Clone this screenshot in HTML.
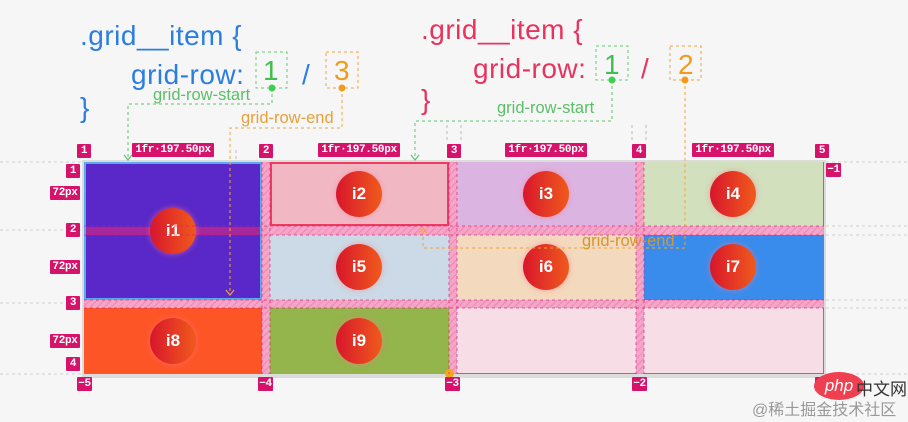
<!DOCTYPE html>
<html><head><meta charset="utf-8"><style>
body{margin:0;width:908px;height:422px;background:#f6f6f7;position:relative;overflow:hidden;font-family:"Liberation Sans","Noto Sans CJK SC",sans-serif}
.a{position:absolute}
.code{font-size:28px;line-height:1;letter-spacing:0.5px}
.lbl{font-size:16.5px}
.tag{position:absolute;background:#d6126b;color:#fff;font-family:"Liberation Mono",monospace;font-weight:bold;font-size:11px;line-height:14px;height:14px;text-align:center;border-radius:1px;letter-spacing:-0.3px}
.cell{position:absolute}
.c{position:absolute;width:46px;height:46px;border-radius:50%;background:linear-gradient(90deg,#d8162c,#f05a1c);color:#fff;font-size:17px;font-weight:bold;text-align:center;line-height:46px;box-shadow:0 0 6px rgba(255,120,140,.6)}
.gap{position:absolute;background:repeating-linear-gradient(135deg,#f4a0c4 0 4px,#ec7fb0 4px 5px);opacity:.9}
</style></head><body>
<!-- code left -->
<div class="a code" style="left:80px;top:22px;color:#2a7de1">.grid__item {</div>
<div class="a code" style="left:131px;top:61px;color:#2a7de1">grid-row:</div>
<div class="a code" style="left:263px;top:57px;color:#3fbf4f">1</div>
<div class="a code" style="left:302px;top:61px;color:#2a7de1">/</div>
<div class="a code" style="left:334px;top:57px;color:#f29a1a">3</div>
<div class="a code" style="left:80px;top:94px;color:#2a7de1">}</div>
<div class="a lbl" style="left:153px;top:86px;color:#5cbf68">grid-row-start</div>
<div class="a lbl" style="left:241px;top:109px;color:#e8a038">grid-row-end</div>
<!-- code right -->
<div class="a code" style="left:421px;top:16px;color:#e8335d">.grid__item {</div>
<div class="a code" style="left:473px;top:55px;color:#e8335d">grid-row:</div>
<div class="a code" style="left:604px;top:51px;color:#3fbf4f">1</div>
<div class="a code" style="left:641px;top:55px;color:#e8335d">/</div>
<div class="a code" style="left:678px;top:51px;color:#f29a1a">2</div>
<div class="a code" style="left:421px;top:86px;color:#e8335d">}</div>
<div class="a lbl" style="left:497px;top:99px;color:#5cbf68">grid-row-start</div>

<!-- grid -->
<div class="a" style="left:82px;top:160px;width:744px;height:218px;background:#dcdcdc"></div>
<div class="a" style="left:84px;top:162px;width:740px;height:212px;background:#f7dde6;border:1px solid #e0507f;box-sizing:border-box"></div>
<div class="gap" style="left:84px;top:226px;width:740px;height:9px"></div>
<div class="gap" style="left:84px;top:300px;width:740px;height:8px"></div>
<div class="gap" style="left:262px;top:162px;width:8px;height:212px"></div>
<div class="gap" style="left:449px;top:162px;width:8px;height:212px"></div>
<div class="gap" style="left:636px;top:162px;width:8px;height:212px"></div>
<div class="cell" style="left:84px;top:162px;width:178px;height:138px;background:#5a28c8;border:2px solid #5aaaf0;box-sizing:border-box"></div>
<div class="a" style="left:86px;top:227px;width:174px;height:8px;background:rgba(230,40,120,.55)"></div>
<div class="cell" style="left:270px;top:162px;width:179px;height:64px;background:#f1b8c4;border:2px solid #ef3b60;box-sizing:border-box"></div>
<div class="cell" style="left:457px;top:162px;width:179px;height:64px;background:#dcb4e2"></div>
<div class="cell" style="left:644px;top:162px;width:179px;height:64px;background:#d2e0bd"></div>
<div class="cell" style="left:270px;top:235px;width:179px;height:65px;background:#cbdae6"></div>
<div class="cell" style="left:457px;top:235px;width:179px;height:65px;background:#f3d9bd"></div>
<div class="cell" style="left:644px;top:235px;width:179px;height:65px;background:#3a8cec"></div>
<div class="cell" style="left:84px;top:308px;width:178px;height:66px;background:#fe5527"></div>
<div class="cell" style="left:270px;top:308px;width:179px;height:66px;background:#94b44c"></div>
<div class="a" style="left:445px;top:369px;width:9px;height:9px;border-radius:50%;background:#f7a51c"></div>

<div class="c" style="left:150px;top:208px">i1</div>
<div class="c" style="left:336px;top:171px">i2</div>
<div class="c" style="left:523px;top:171px">i3</div>
<div class="c" style="left:710px;top:171px">i4</div>
<div class="c" style="left:336px;top:244px">i5</div>
<div class="c" style="left:523px;top:244px">i6</div>
<div class="c" style="left:710px;top:244px">i7</div>
<div class="c" style="left:150px;top:318px">i8</div>
<div class="c" style="left:336px;top:318px">i9</div>

<svg class="a" style="left:0;top:0" width="908" height="422">
<g fill="none" stroke-dasharray="3,3" stroke-width="1">
<g stroke="#aaa" stroke-opacity=".5">
<line x1="0" y1="162" x2="84" y2="162"/><line x1="0" y1="230" x2="84" y2="230"/><line x1="0" y1="303" x2="84" y2="303"/><line x1="0" y1="374" x2="84" y2="374"/>
<line x1="826" y1="162" x2="908" y2="162"/><line x1="826" y1="226" x2="908" y2="226"/><line x1="826" y1="235" x2="908" y2="235"/><line x1="826" y1="300" x2="908" y2="300"/><line x1="826" y1="308" x2="908" y2="308"/><line x1="826" y1="374" x2="908" y2="374"/>
</g>
<g stroke="#d6126b" stroke-opacity=".6">
<line x1="84" y1="226" x2="824" y2="226"/><line x1="84" y1="235" x2="824" y2="235"/><line x1="84" y1="300" x2="824" y2="300"/><line x1="84" y1="308" x2="824" y2="308"/>
<line x1="262" y1="162" x2="262" y2="374"/><line x1="270" y1="162" x2="270" y2="374"/><line x1="449" y1="162" x2="449" y2="374"/><line x1="457" y1="162" x2="457" y2="374"/><line x1="636" y1="162" x2="636" y2="374"/><line x1="644" y1="162" x2="644" y2="374"/>
</g>
<rect x="256" y="52" width="31" height="36" stroke="#5cd070"/>
<rect x="326" y="52" width="32" height="36" stroke="#f2a33a"/>
<rect x="596" y="46" width="32" height="34" stroke="#5cd070"/>
<rect x="670" y="46" width="31" height="34" stroke="#f2a33a"/>
<path d="M272 88V104H128V160" stroke="#5cc56a"/>
<path d="M342 88V128H230V295" stroke="#f2a33a"/>
<path d="M612 80V121H415V160" stroke="#5cc56a"/>
<path d="M685 80V248H423V228" stroke="#f2a33a"/>
<path d="M236 150V160M272 150V160M447 125V140M461 125V140M632 125V140M646 125V140" stroke="#bbb"/>
</g>
<g fill="none" stroke-width="1.2">
<path d="M124 155L128 160L132 155" stroke="#5cc56a"/>
<path d="M411 155L415 160L419 155" stroke="#5cc56a"/>
<path d="M226 290L230 295L234 290" stroke="#f2a33a"/>
<path d="M419 233L423 228L427 233" stroke="#f2a33a"/>
</g>
<circle cx="272" cy="88" r="3.5" fill="#3fcf4f"/>
<circle cx="342" cy="88" r="3.5" fill="#f29a1a"/>
<circle cx="612" cy="80" r="3.5" fill="#3fcf4f"/>
<circle cx="685" cy="80" r="3.5" fill="#f29a1a"/>
</svg>
<div class="a lbl" style="left:582px;top:232px;color:#d9962e">grid-row-end</div>

<!-- tags -->
<div class="tag" style="left:77px;top:144px;width:14px">1</div>
<div class="tag" style="left:259px;top:144px;width:14px">2</div>
<div class="tag" style="left:447px;top:144px;width:14px">3</div>
<div class="tag" style="left:632px;top:144px;width:14px">4</div>
<div class="tag" style="left:815px;top:144px;width:14px">5</div>
<div class="tag" style="left:132px;top:143px;width:82px">1fr·197.50px</div>
<div class="tag" style="left:318px;top:143px;width:82px">1fr·197.50px</div>
<div class="tag" style="left:505px;top:143px;width:82px">1fr·197.50px</div>
<div class="tag" style="left:692px;top:143px;width:82px">1fr·197.50px</div>
<div class="tag" style="left:66px;top:164px;width:14px">1</div>
<div class="tag" style="left:50px;top:186px;width:30px">72px</div>
<div class="tag" style="left:66px;top:223px;width:14px">2</div>
<div class="tag" style="left:50px;top:260px;width:30px">72px</div>
<div class="tag" style="left:66px;top:296px;width:14px">3</div>
<div class="tag" style="left:50px;top:334px;width:30px">72px</div>
<div class="tag" style="left:66px;top:357px;width:14px">4</div>
<div class="tag" style="left:77px;top:377px;width:15px">−5</div>
<div class="tag" style="left:258px;top:377px;width:15px">−4</div>
<div class="tag" style="left:445px;top:377px;width:15px">−3</div>
<div class="tag" style="left:632px;top:377px;width:15px">−2</div>
<div class="tag" style="left:815px;top:377px;width:15px">−1</div>
<div class="tag" style="left:826px;top:163px;width:15px">−1</div>

<!-- watermark -->
<div class="a" style="left:814px;top:372px;width:50px;height:28px;border-radius:50%;background:#ee4050;color:#fff;font-size:17px;font-style:italic;text-align:center;line-height:28px">php</div>
<div class="a" style="left:856px;top:375px;font-size:17px;color:#333">中文网</div>
<div class="a" style="left:752px;top:396px;font-size:16px;color:#999">@稀土掘金技术社区</div>
</body></html>
